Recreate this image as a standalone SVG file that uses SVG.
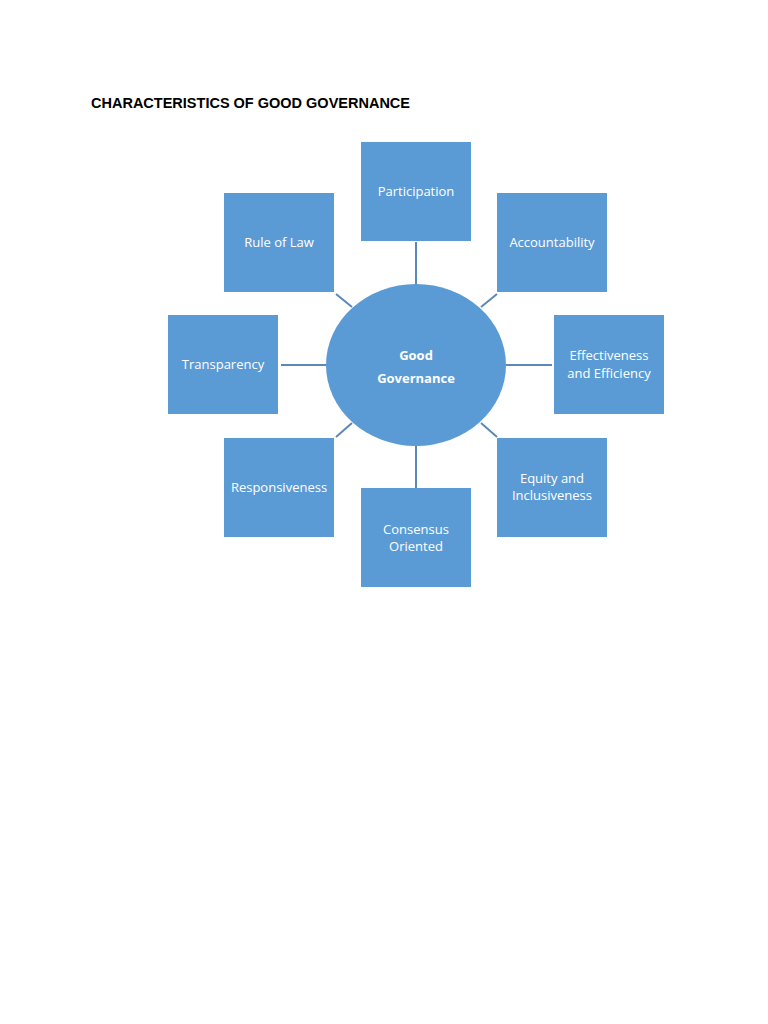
<svg xmlns="http://www.w3.org/2000/svg" width="768" height="1024" viewBox="0 0 768 1024">
<style>
.b{fill:#5B9BD5}
.t{font-family:"Open Sans","Liberation Sans",sans-serif;font-size:13px;fill:#fff;text-anchor:middle}
.c{stroke:#5A88B8;stroke-width:2;fill:none}
</style>
<rect width="768" height="1024" fill="#fff"/>
<text x="91" y="108" font-family="Liberation Sans,Arial,sans-serif" font-weight="bold" font-size="14.5">CHARACTERISTICS OF GOOD GOVERNANCE</text>
<g id="connectors">
<line class="c" x1="416" y1="242" x2="416" y2="284"/>
<line class="c" x1="281" y1="365" x2="326" y2="365"/>
<line class="c" x1="506" y1="365" x2="552" y2="365"/>
<line class="c" x1="416" y1="446" x2="416" y2="488"/>
<line class="c" x1="336" y1="294" x2="352" y2="307"/>
<line class="c" x1="497" y1="294" x2="481" y2="307"/>
<line class="c" x1="336" y1="437" x2="352" y2="423"/>
<line class="c" x1="497" y1="437" x2="481" y2="423"/>
</g>
<g id="center"><ellipse class="b" cx="416" cy="365" rx="90" ry="81"/>
<text class="t" x="416" y="360" font-size="18" font-weight="bold">Good</text>
<text class="t" x="416" y="383" font-size="18" font-weight="bold">Governance</text></g>
<g id="participation"><rect class="b" x="361" y="142" width="110" height="99"/><text class="t" x="416" y="196">Participation</text></g>
<g id="ruleoflaw"><rect class="b" x="224" y="193" width="110" height="99"/><text class="t" x="279" y="247">Rule of Law</text></g>
<g id="accountability"><rect class="b" x="497" y="193" width="110" height="99"/><text class="t" x="552" y="247">Accountability</text></g>
<g id="transparency"><rect class="b" x="168" y="315" width="110" height="99"/><text class="t" x="223" y="369">Transparency</text></g>
<g id="effectiveness"><rect class="b" x="554" y="315" width="110" height="99"/><text class="t" x="609" y="360">Effectiveness</text><text class="t" x="609" y="378">and Efficiency</text></g>
<g id="responsiveness"><rect class="b" x="224" y="438" width="110" height="99"/><text class="t" x="279" y="492">Responsiveness</text></g>
<g id="equity"><rect class="b" x="497" y="438" width="110" height="99"/><text class="t" x="552" y="483">Equity and</text><text class="t" x="552" y="500">Inclusiveness</text></g>
<g id="consensus"><rect class="b" x="361" y="488" width="110" height="99"/><text class="t" x="416" y="534">Consensus</text><text class="t" x="416" y="551">Oriented</text></g>
</svg>
